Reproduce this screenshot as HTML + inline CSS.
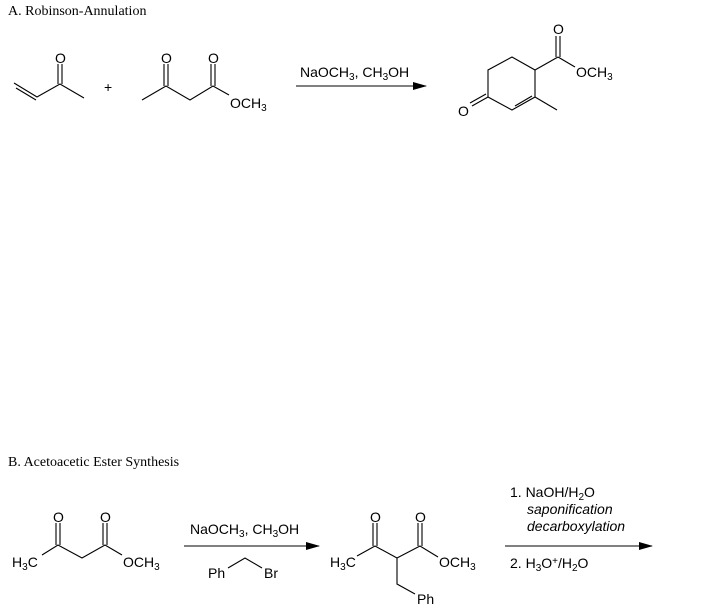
<!DOCTYPE html>
<html><head><meta charset="utf-8"><style>
html,body{margin:0;padding:0;background:#fff;}
svg{display:block;}
.s{font-family:"Liberation Sans",sans-serif;font-size:14px;fill:#000;}
.t{font-family:"Liberation Serif",serif;font-size:14px;fill:#000;}
.i{font-family:"Liberation Sans",sans-serif;font-size:14px;font-style:italic;fill:#000;}
.sub{font-size:10px;}
line,polyline{stroke:#000;stroke-width:1.1;fill:none;}
</style></head><body>
<svg width="708" height="607" viewBox="0 0 708 607" xmlns="http://www.w3.org/2000/svg">
<defs><marker id="ah" markerWidth="14" markerHeight="8" refX="13" refY="4" orient="auto" markerUnits="userSpaceOnUse"><path d="M0,0 L14,4 L0,8 Z" fill="#000"/></marker></defs>
<text class="t" x="8" y="15">A. Robinson-Annulation</text>
<polyline points="14,83 37,97 60,84 84,98"/>
<line x1="16" y1="88" x2="36" y2="100"/>
<line x1="58" y1="84" x2="58" y2="64"/><line x1="62" y1="84" x2="62" y2="64"/>
<text class="s" x="55" y="63">O</text>
<text class="s" x="104" y="92">+</text>
<polyline points="142,100 166,86 190,100 213,86 229,95"/>
<line x1="164" y1="86" x2="164" y2="64"/><line x1="168" y1="86" x2="168" y2="64"/>
<line x1="211" y1="86" x2="211" y2="64"/><line x1="215" y1="86" x2="215" y2="64"/>
<text class="s" x="161" y="63">O</text><text class="s" x="208" y="63">O</text>
<text class="s" x="230" y="108">OCH<tspan class="sub" dy="3">3</tspan></text>
<text class="s" x="300" y="77">NaOCH<tspan class="sub" dy="3">3</tspan><tspan dy="-3">, CH</tspan><tspan class="sub" dy="3">3</tspan><tspan dy="-3">OH</tspan></text>
<line x1="296" y1="86" x2="426" y2="86" marker-end="url(#ah)"/>
<polyline points="488,97 488,70 512,57 535,70 535,97 512,110 488,97"/>
<line x1="515" y1="106" x2="532" y2="96"/>
<line x1="488" y1="97" x2="472" y2="106"/><line x1="486" y1="94" x2="470" y2="103"/>
<text class="s" x="458" y="116">O</text>
<line x1="535" y1="97" x2="557" y2="110"/>
<line x1="535" y1="70" x2="558" y2="57"/><line x1="558" y1="57" x2="575" y2="67"/>
<line x1="556" y1="57" x2="556" y2="36"/><line x1="560" y1="57" x2="560" y2="36"/>
<text class="s" x="553" y="34">O</text>
<text class="s" x="576" y="77">OCH<tspan class="sub" dy="3">3</tspan></text>

<text class="t" x="8" y="466">B. Acetoacetic Ester Synthesis</text>
<text class="s" x="12" y="567">H<tspan class="sub" dy="3">3</tspan><tspan dy="-3">C</tspan></text>
<polyline points="42,555 58,545 82,558 105,545 122,555"/>
<line x1="56" y1="545" x2="56" y2="523"/><line x1="60" y1="545" x2="60" y2="523"/>
<line x1="103" y1="545" x2="103" y2="523"/><line x1="107" y1="545" x2="107" y2="523"/>
<text class="s" x="53" y="522">O</text><text class="s" x="100" y="522">O</text>
<text class="s" x="123" y="567">OCH<tspan class="sub" dy="3">3</tspan></text>
<text class="s" x="190" y="534">NaOCH<tspan class="sub" dy="3">3</tspan><tspan dy="-3">, CH</tspan><tspan class="sub" dy="3">3</tspan><tspan dy="-3">OH</tspan></text>
<line x1="184" y1="546" x2="319" y2="546" marker-end="url(#ah)"/>
<text class="s" x="208" y="578">Ph</text>
<polyline points="228,568 245,558 262,568"/>
<text class="s" x="264" y="578">Br</text>
<text class="s" x="330" y="567">H<tspan class="sub" dy="3">3</tspan><tspan dy="-3">C</tspan></text>
<polyline points="357,556 375,546 397,558 420,546 438,557"/>
<polyline points="397,558 397,584 415,594"/>
<line x1="373" y1="546" x2="373" y2="523"/><line x1="377" y1="546" x2="377" y2="523"/>
<line x1="418" y1="546" x2="418" y2="523"/><line x1="422" y1="546" x2="422" y2="523"/>
<text class="s" x="370" y="522">O</text><text class="s" x="415" y="522">O</text>
<text class="s" x="439" y="567">OCH<tspan class="sub" dy="3">3</tspan></text>
<text class="s" x="417" y="604">Ph</text>
<text class="s" x="510" y="497">1. NaOH/H<tspan class="sub" dy="3">2</tspan><tspan dy="-3">O</tspan></text>
<text class="i" x="527" y="514">saponification</text>
<text class="i" x="527" y="531">decarboxylation</text>
<line x1="505" y1="546" x2="652" y2="546" marker-end="url(#ah)"/>
<text class="s" x="510" y="568">2. H<tspan class="sub" dy="3">3</tspan><tspan dy="-3">O</tspan><tspan class="sub" dy="-4">+</tspan><tspan dy="4">/H</tspan><tspan class="sub" dy="3">2</tspan><tspan dy="-3">O</tspan></text>
</svg>
</body></html>
